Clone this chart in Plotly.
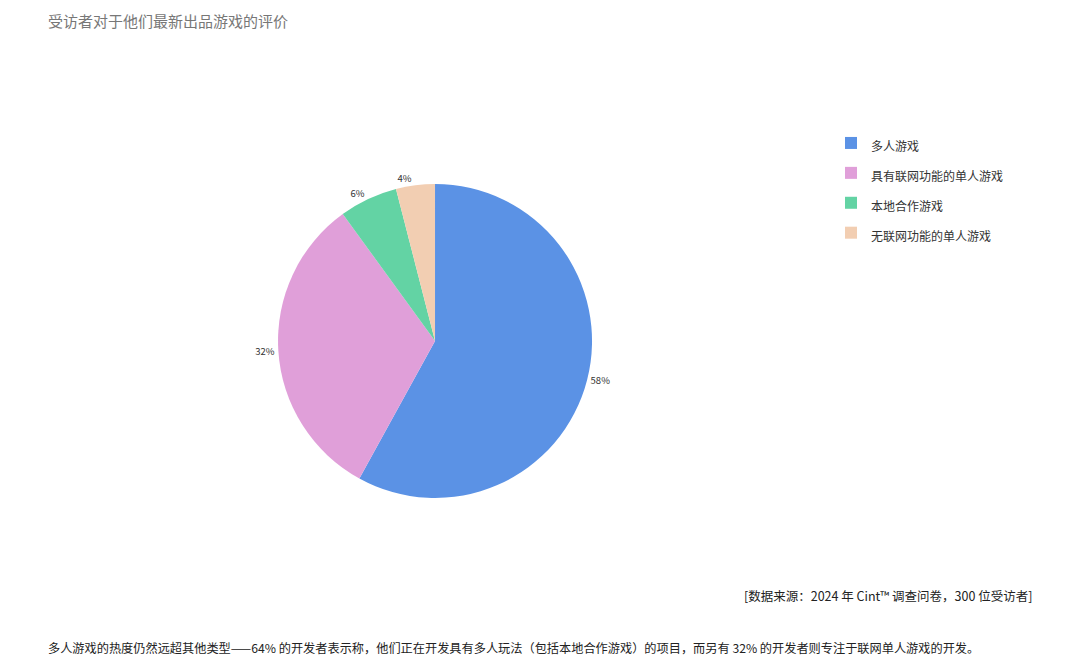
import plotly.graph_objects as go

# chart data
labels = ["多人游戏", "具有联网功能的单人游戏", "本地合作游戏", "无联网功能的单人游戏"]
values = [58, 32, 6, 4]
colors = ["#5b92e5", "#e09fd9", "#63d3a4", "#f2ceb2"]

title_text = "受访者对于他们最新出品游戏的评价"
source_text = "[数据来源：2024 年 Cint™ 调查问卷，300 位受访者]"
note_text = "多人游戏的热度仍然远超其他类型——64% 的开发者表示称，他们正在开发具有多人玩法（包括本地合作游戏）的项目，而另有 32% 的开发者则专注于联网单人游戏的开发。"

font_family = "Noto Sans CJK SC, Noto Sans, sans-serif"

# the page adds an 8px body margin, so size the figure to fit the window
W, H = 1072, 652


def px(x):
    return (x - 8) / W


def py(y):
    return 1 - (y - 8) / H


fig = go.Figure()

fig.add_trace(
    go.Pie(
        labels=[f"<span style='font-size:12px'>{lab}</span>" for lab in labels],
        values=values,
        sort=False,
        direction="clockwise",
        rotation=0,
        marker=dict(colors=colors, line=dict(width=0)),
        textinfo="percent",
        texttemplate="%{percent:.0%}",
        textposition="outside",
        textfont=dict(size=9.5, color="#333333", family=font_family),
        domain=dict(x=[0.2519, 0.5448], y=[0.2485, 0.7301]),
        hovertemplate="%{label}: %{percent:.0%}<extra></extra>",
    )
)

fig.update_layout(
    width=W,
    height=H,
    margin=dict(l=0, r=0, t=0, b=0),
    paper_bgcolor="white",
    plot_bgcolor="white",
    font=dict(family=font_family, color="#333333"),
    showlegend=True,
    legend=dict(
        x=px(831),
        y=py(123),
        xanchor="left",
        yanchor="top",
        font=dict(size=20.7, color="#333333", family=font_family),
        bgcolor="rgba(0,0,0,0)",
    ),
    annotations=[
        dict(
            text=title_text,
            x=px(46),
            y=py(20),
            xref="paper",
            yref="paper",
            xanchor="left",
            yanchor="middle",
            showarrow=False,
            font=dict(size=15, color="#777777", family=font_family),
        ),
        dict(
            text=source_text,
            x=px(1034),
            y=py(595),
            xref="paper",
            yref="paper",
            xanchor="right",
            yanchor="middle",
            showarrow=False,
            font=dict(size=12.5, color="#222222", family=font_family),
        ),
        dict(
            text=note_text,
            x=px(46),
            y=py(648),
            xref="paper",
            yref="paper",
            xanchor="left",
            yanchor="middle",
            showarrow=False,
            font=dict(size=12.2, color="#222222", family=font_family),
        ),
    ],
)

fig.write_html("out.html")
